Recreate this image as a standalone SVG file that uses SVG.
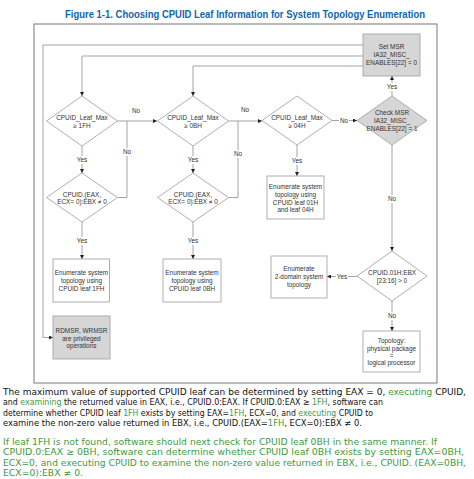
<svg xmlns="http://www.w3.org/2000/svg" width="474" height="479" viewBox="0 0 474 479">
<style>
.t{font-family:"Liberation Sans",Arial,sans-serif;font-size:6.4px;fill:#333;text-anchor:middle}
.box{fill:#fff;stroke:#a6a6a6;stroke-width:0.9}
.gbox{fill:#d6d6d6;stroke:#a6a6a6;stroke-width:0.9}
.ln{fill:none;stroke:#9a9a9a;stroke-width:0.9}
.lbg{fill:#fff}
.p{font-family:"DejaVu Sans",Verdana,sans-serif;font-size:8.8px;fill:#111}
.g{fill:#3f9a3f}
</style>
<defs>
<marker id="ah" viewBox="0 0 6 6" refX="6" refY="3" markerWidth="4" markerHeight="4" orient="auto" markerUnits="userSpaceOnUse">
<path d="M0,0 L6,3 L0,6 z" fill="#222"/>
</marker>
</defs>
<rect width="474" height="479" fill="#fff"/>
<text x="245" y="18" font-family="'Liberation Sans',Arial,sans-serif" font-weight="bold" font-size="10" fill="#1166aa" text-anchor="middle" textLength="360" lengthAdjust="spacingAndGlyphs">Figure 1-1. Choosing CPUID Leaf Information for System Topology Enumeration</text>
<rect x="34" y="24" width="403" height="359" fill="none" stroke="#777" stroke-width="1"/>

<g id="connectors">
<polyline class="ln" points="363,45 43,45 43,337.5 53,337.5" marker-end="url(#ah)"/>
<polyline class="ln" points="363,56 82,56 82,96" marker-end="url(#ah)"/>
<polyline class="ln" points="363,66 193,66 193,96" marker-end="url(#ah)"/>
<line class="ln" x1="117.5" y1="121" x2="157" y2="121" marker-end="url(#ah)"/>
<line class="ln" x1="82" y1="146" x2="82" y2="173" marker-end="url(#ah)"/>
<polyline class="ln" points="117.5,197.5 127,197.5 127,121"/>
<line class="ln" x1="82" y1="222" x2="82" y2="259" marker-end="url(#ah)"/>
<line class="ln" x1="228.5" y1="121" x2="262" y2="121" marker-end="url(#ah)"/>
<line class="ln" x1="193" y1="146" x2="193" y2="173" marker-end="url(#ah)"/>
<polyline class="ln" points="228.5,197.5 238,197.5 238,121"/>
<line class="ln" x1="193" y1="222" x2="193" y2="259" marker-end="url(#ah)"/>
<line class="ln" x1="332" y1="120.5" x2="357" y2="120.5" marker-end="url(#ah)"/>
<line class="ln" x1="297" y1="145" x2="297" y2="176" marker-end="url(#ah)"/>
<line class="ln" x1="392" y1="96" x2="392" y2="76" marker-end="url(#ah)"/>
<line class="ln" x1="392" y1="145" x2="392" y2="251" marker-end="url(#ah)"/>
<line class="ln" x1="357" y1="276.5" x2="327" y2="276.5" marker-end="url(#ah)"/>
<line class="ln" x1="392" y1="301" x2="392" y2="331" marker-end="url(#ah)"/>
<g id="labels">
<text class="t" x="136" y="113">No</text>
<rect class="lbg" x="76" y="156" width="12" height="8"/><text class="t" x="82" y="162">Yes</text>
<rect class="lbg" x="122" y="148" width="10" height="8"/><text class="t" x="127" y="154">No</text>
<rect class="lbg" x="76" y="237" width="12" height="8"/><text class="t" x="82" y="243">Yes</text>
<text class="t" x="245" y="112">No</text>
<rect class="lbg" x="187" y="156" width="12" height="8"/><text class="t" x="193" y="162">Yes</text>
<rect class="lbg" x="233" y="150" width="10" height="8"/><text class="t" x="238" y="156">No</text>
<rect class="lbg" x="187" y="237" width="12" height="8"/><text class="t" x="193" y="243">Yes</text>
<rect class="lbg" x="339" y="117" width="10" height="8"/><text class="t" x="344" y="123">No</text>
<rect class="lbg" x="291" y="157" width="12" height="8"/><text class="t" x="297" y="163">Yes</text>
<rect class="lbg" x="386" y="83" width="12" height="8"/><text class="t" x="392" y="89">Yes</text>
<rect class="lbg" x="387" y="195" width="10" height="8"/><text class="t" x="392" y="201">No</text>
<rect class="lbg" x="336" y="273" width="12" height="8"/><text class="t" x="342" y="279">Yes</text>
<rect class="lbg" x="387" y="312" width="10" height="8"/><text class="t" x="392" y="318">No</text>
</g>
</g>

<g id="set-msr">
<rect class="gbox" x="363" y="34" width="57" height="42"/>
<text class="t" x="391.5" y="49">Set MSR</text>
<text class="t" x="391.5" y="57">IA32_MISC_</text>
<text class="t" x="391.5" y="65">ENABLES[22] = 0</text>
</g>
<g id="leafmax-1fh">
<polygon class="box" points="82,96 117.5,121 82,146 46.5,121"/>
<text class="t" x="82" y="120">CPUID_Leaf_Max</text>
<text class="t" x="82" y="127.5">≥ 1FH</text>
</g>
<g id="leafmax-0bh">
<polygon class="box" points="193,96 228.5,121 193,146 157.5,121"/>
<text class="t" x="193" y="120">CPUID_Leaf_Max</text>
<text class="t" x="193" y="127.5">≥ 0BH</text>
</g>
<g id="leafmax-04h">
<polygon class="box" points="297,96 332,120.5 297,145 262,120.5"/>
<text class="t" x="297" y="120">CPUID_Leaf_Max</text>
<text class="t" x="297" y="127.5">≥ 04H</text>
</g>
<g id="check-msr">
<polygon class="gbox" points="392,96 427,120.5 392,145 357,120.5"/>
<text class="t" x="392" y="115">Check MSR</text>
<text class="t" x="392" y="123">IA32_MISC_</text>
<text class="t" x="392" y="130.5">ENABLES[22] = 1</text>
</g>
<g id="ebx-1fh">
<polygon class="box" points="82,173 117.5,197.5 82,222 46.5,197.5"/>
<text class="t" x="82" y="196.5">CPUID.(EAX,</text>
<text class="t" x="82" y="204">ECX= 0):EBX ≠ 0</text>
</g>
<g id="ebx-0bh">
<polygon class="box" points="193,173 228.5,197.5 193,222 157.5,197.5"/>
<text class="t" x="193" y="196.5">CPUID.(EAX,</text>
<text class="t" x="193" y="204">ECX= 0):EBX ≠ 0</text>
</g>
<g id="enum-1fh">
<rect class="box" x="53" y="259" width="56.5" height="43"/>
<text class="t" x="81.5" y="275">Enumerate system</text>
<text class="t" x="81.5" y="283">topology using</text>
<text class="t" x="81.5" y="290.5">CPUID leaf 1FH</text>
</g>
<g id="enum-0bh">
<rect class="box" x="163" y="259" width="58" height="43"/>
<text class="t" x="192" y="275">Enumerate system</text>
<text class="t" x="192" y="283">topology using</text>
<text class="t" x="192" y="290.5">CPUID leaf 0BH</text>
</g>
<g id="enum-01h-04h">
<rect class="box" x="267" y="176" width="57" height="43"/>
<text class="t" x="295.5" y="189">Enumerate system</text>
<text class="t" x="295.5" y="197">topology using</text>
<text class="t" x="295.5" y="204.5">CPUID leaf 01H</text>
<text class="t" x="295.5" y="212">and leaf 04H</text>
</g>
<g id="rdmsr">
<rect class="gbox" x="53" y="316" width="57" height="43"/>
<text class="t" x="81.5" y="333">RDMSR, WRMSR</text>
<text class="t" x="81.5" y="340.5">are privileged</text>
<text class="t" x="81.5" y="348">operations</text>
</g>
<g id="ebx-23-16">
<polygon class="box" points="392,251 427,276 392,301 357,276"/>
<text class="t" x="392" y="275">CPUID.01H:EBX</text>
<text class="t" x="392" y="283">[23:16] &gt; 0</text>
</g>
<g id="enum-2domain">
<rect class="box" x="271" y="256" width="56" height="42"/>
<text class="t" x="299" y="271">Enumerate</text>
<text class="t" x="299" y="279">2-domain system</text>
<text class="t" x="299" y="286.5">topology</text>
</g>
<g id="topology">
<rect class="box" x="363" y="331" width="57" height="41"/>
<text class="t" x="391.5" y="343">Topology:</text>
<text class="t" x="391.5" y="350.5">physical package</text>
<text class="t" x="391.5" y="357.5">=</text>
<text class="t" x="391.5" y="365">logical processor</text>
</g>

<g id="paragraphs">
<text class="p" x="3" y="394.5" textLength="463" lengthAdjust="spacingAndGlyphs">The maximum value of supported CPUID leaf can be determined by setting EAX = 0, <tspan class="g">executing</tspan> CPUID,</text>
<text class="p" x="3" y="405" textLength="380" lengthAdjust="spacingAndGlyphs">and <tspan class="g">examining</tspan> the returned value in EAX, i.e., CPUID.0:EAX. If CPUID.0:EAX ≥ <tspan class="g">1FH</tspan>, software can</text>
<text class="p" x="3" y="415.5" textLength="370" lengthAdjust="spacingAndGlyphs">determine whether CPUID leaf <tspan class="g">1FH</tspan> exists by setting EAX=<tspan class="g">1FH</tspan>, ECX=0, and <tspan class="g">executing</tspan> CPUID to</text>
<text class="p" x="3" y="425.5" textLength="359" lengthAdjust="spacingAndGlyphs">examine the non-zero value returned in EBX, i.e., CPUID.(EAX=<tspan class="g">1FH</tspan>, ECX=0):EBX ≠ 0.</text>
<text class="p g" x="3" y="444.5" textLength="434" lengthAdjust="spacingAndGlyphs">If leaf 1FH is not found, software should next check for CPUID leaf 0BH in the same manner. If</text>
<text class="p g" x="3" y="455" textLength="461" lengthAdjust="spacingAndGlyphs">CPUID.0:EAX ≥ 0BH, software can determine whether CPUID leaf 0BH exists by setting EAX=0BH,</text>
<text class="p g" x="3" y="465.5" textLength="463" lengthAdjust="spacingAndGlyphs">ECX=0, and executing CPUID to examine the non-zero value returned in EBX, i.e., CPUID. (EAX=0BH,</text>
<text class="p g" x="3" y="475.5" textLength="80" lengthAdjust="spacingAndGlyphs">ECX=0):EBX ≠ 0.</text>
</g>
</svg>
